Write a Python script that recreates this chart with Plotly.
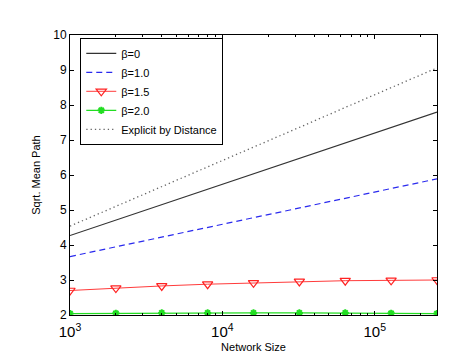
import plotly.graph_objects as go

network_size = [1000, 2000, 4000, 8000, 16000, 32000, 64000, 128000, 256000]
beta0 = [4.27, 4.71, 5.15, 5.59, 6.04, 6.48, 6.92, 7.36, 7.80]
beta10 = [3.67, 3.95, 4.23, 4.50, 4.78, 5.06, 5.33, 5.61, 5.89]
beta15 = [2.70, 2.77, 2.83, 2.88, 2.92, 2.96, 2.98, 2.99, 3.00]
beta20 = [2.04, 2.05, 2.06, 2.06, 2.06, 2.06, 2.06, 2.05, 2.04]
explicit = [4.54, 5.10, 5.67, 6.23, 6.80, 7.36, 7.93, 8.49, 9.06]

fig = go.Figure()
fig.add_trace(go.Scatter(x=network_size, y=beta0, mode="lines", name="β=0",
                         line=dict(color="#333333", width=1.2)))
fig.add_trace(go.Scatter(x=network_size, y=beta10, mode="lines", name="β=1.0",
                         line=dict(color="#2a2aee", width=1.2, dash="6px,4px")))
fig.add_trace(go.Scatter(x=network_size, y=beta15, mode="lines+markers", name="β=1.5",
                         line=dict(color="#ff3b3b", width=1),
                         marker=dict(symbol="triangle-down-open", size=9, color="#ff2222",
                                     line=dict(width=1.2, color="#ff2222"))))
fig.add_trace(go.Scatter(x=network_size, y=beta20, mode="lines+markers", name="β=2.0",
                         line=dict(color="#22dd22", width=1.2),
                         marker=dict(symbol="asterisk-open", size=6, color="#22dd22",
                                     line=dict(width=2, color="#22dd22"))))
fig.add_trace(go.Scatter(x=network_size, y=explicit, mode="lines", name="Explicit by Distance",
                         line=dict(color="#666666", width=1.3, dash="1.3px,3px")))

axis_common = dict(showline=True, linecolor="black", linewidth=1, mirror="allticks",
                   ticks="inside", tickcolor="black", ticklen=4, showgrid=False,
                   zeroline=False, tickfont=dict(size=12, color="black"))

fig.update_xaxes(type="log", range=[3, 5.40824], dtick=1, exponentformat="power",
                 ticklabelstandoff=4,
                 minor=dict(ticks="inside", dtick="D1", ticklen=2, tickcolor="black", showgrid=False),
                 title=dict(text="Network Size", font=dict(size=11, color="black"), standoff=3),
                 **axis_common)
fig.update_yaxes(range=[2, 10], dtick=1,
                 title=dict(text="Sqrt. Mean Path", font=dict(size=11, color="black"), standoff=10),
                 **axis_common)

fig.update_layout(
    width=474, height=355,
    margin=dict(l=62, r=45, t=27, b=40),
    plot_bgcolor="white", paper_bgcolor="white",
    font=dict(family="Liberation Sans, Arial, sans-serif", size=11, color="black"),
    legend=dict(x=0.028, y=0.99, xanchor="left", yanchor="top",
                bgcolor="white", bordercolor="black", borderwidth=1,
                font=dict(size=11), itemwidth=30, tracegroupgap=0),
)

fig.write_html("out.html")
